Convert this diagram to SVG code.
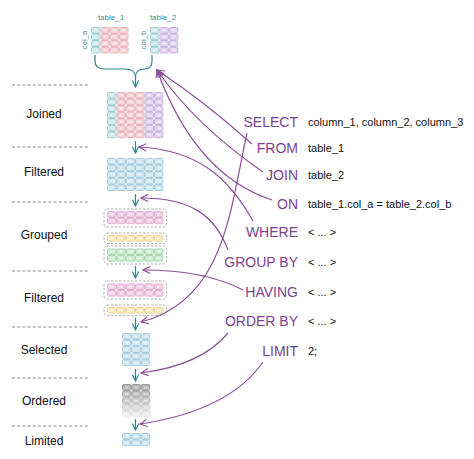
<svg xmlns="http://www.w3.org/2000/svg" width="474" height="459" viewBox="0 0 474 459">
<style>
.kw{font-family:"Liberation Sans",Arial,sans-serif;font-size:14px;fill:#7b3f8f;text-anchor:end}
.val{font-family:"Liberation Sans",Arial,sans-serif;font-size:11px;fill:#111}
.lbl{font-family:"Liberation Sans",Arial,sans-serif;font-size:12px;fill:#111;text-anchor:middle}
.tl{font-family:"Liberation Sans",Arial,sans-serif;font-size:8px;fill:#3f8f9a;text-anchor:middle}
.sep{stroke:#888;stroke-width:1;stroke-dasharray:3 2.2}
.grp{fill:none;stroke:#a8a8a8;stroke-width:0.9;stroke-dasharray:2.5 1.5}
.pc{fill:none;stroke:#8b4f9c;stroke-width:1.2}
.tc{fill:none;stroke:#2f8585;stroke-width:1.2}
</style>
<defs>
<pattern id="pTeal" width="9.4" height="6.6" patternUnits="userSpaceOnUse"><rect x="0.5" y="0.5" width="8.4" height="5.6" rx="1" fill="#d3ecee" stroke="#86c0c6" stroke-width="0.7"/><rect x="2.5" y="2.1" width="4.4" height="2.4" rx="0.5" fill="#f2fafa" stroke="#a8d4d8" stroke-width="0.4"/></pattern>
<pattern id="pPink" width="9.4" height="6.6" patternUnits="userSpaceOnUse"><rect x="0.5" y="0.5" width="8.4" height="5.6" rx="1" fill="#f6d3d7" stroke="#e0a2aa" stroke-width="0.7"/><rect x="2.5" y="2.1" width="4.4" height="2.4" rx="0.5" fill="#fdf1f2" stroke="#eec0c5" stroke-width="0.4"/></pattern>
<pattern id="pPurple" width="9.4" height="6.6" patternUnits="userSpaceOnUse"><rect x="0.5" y="0.5" width="8.4" height="5.6" rx="1" fill="#e3d5f1" stroke="#b8a0d6" stroke-width="0.7"/><rect x="2.5" y="2.1" width="4.4" height="2.4" rx="0.5" fill="#f6f1fb" stroke="#cfc0e6" stroke-width="0.4"/></pattern>
<pattern id="pBlue" width="9.4" height="6.6" patternUnits="userSpaceOnUse"><rect x="0.5" y="0.5" width="8.4" height="5.6" rx="1" fill="#d5eaf4" stroke="#8dbcd4" stroke-width="0.7"/><rect x="2.5" y="2.1" width="4.4" height="2.4" rx="0.5" fill="#f1f8fc" stroke="#b2d3e4" stroke-width="0.4"/></pattern>
<pattern id="pMag" width="9.4" height="6.6" patternUnits="userSpaceOnUse"><rect x="0.5" y="0.5" width="8.4" height="5.6" rx="1" fill="#f3d0e6" stroke="#d99cc4" stroke-width="0.7"/><rect x="2.5" y="2.1" width="4.4" height="2.4" rx="0.5" fill="#fbeff7" stroke="#e9bcd9" stroke-width="0.4"/></pattern>
<pattern id="pYellow" width="9.4" height="6.6" patternUnits="userSpaceOnUse"><rect x="0.5" y="0.5" width="8.4" height="5.6" rx="1" fill="#fbecc2" stroke="#e8c676" stroke-width="0.7"/><rect x="2.5" y="2.1" width="4.4" height="2.4" rx="0.5" fill="#fef8e8" stroke="#f0d99e" stroke-width="0.4"/></pattern>
<pattern id="pGreen" width="9.4" height="6.6" patternUnits="userSpaceOnUse"><rect x="0.5" y="0.5" width="8.4" height="5.6" rx="1" fill="#d3efd6" stroke="#8dc896" stroke-width="0.7"/><rect x="2.5" y="2.1" width="4.4" height="2.4" rx="0.5" fill="#f0faf1" stroke="#b3dcb9" stroke-width="0.4"/></pattern>
<pattern id="pGrey" width="9.4" height="6.6" patternUnits="userSpaceOnUse"><rect x="0.5" y="0.5" width="8.4" height="5.6" rx="1" fill="#b4b4b4" stroke="#7a7a7a" stroke-width="0.7"/><rect x="2.5" y="2.1" width="4.4" height="2.4" rx="0.5" fill="#dcdcdc" stroke="#999" stroke-width="0.4"/></pattern>
<linearGradient id="fade" x1="0" y1="0" x2="0" y2="1"><stop offset="0" stop-color="#fff" stop-opacity="0"/><stop offset="0.35" stop-color="#fff" stop-opacity="0.25"/><stop offset="1" stop-color="#fff" stop-opacity="0.85"/></linearGradient>
<marker id="ap" viewBox="0 0 10 10" refX="9" refY="5" markerWidth="9" markerHeight="9" markerUnits="userSpaceOnUse" orient="auto"><path d="M1,1 L9,5 L1,9" fill="none" stroke="#8b4f9c" stroke-width="1.3"/></marker>
<marker id="at" viewBox="0 0 10 10" refX="9" refY="5" markerWidth="8" markerHeight="8" markerUnits="userSpaceOnUse" orient="auto"><path d="M1,1 L9,5 L1,9" fill="none" stroke="#2f8585" stroke-width="1.4"/></marker>
</defs>
<rect width="474" height="459" fill="#fff"/>

<g id="separators">
<line class="sep" x1="12" y1="85" x2="88" y2="85"/>
<line class="sep" x1="12" y1="147" x2="88" y2="147"/>
<line class="sep" x1="12" y1="202" x2="88" y2="202"/>
<line class="sep" x1="12" y1="271" x2="88" y2="271"/>
<line class="sep" x1="12" y1="327" x2="88" y2="327"/>
<line class="sep" x1="12" y1="378" x2="88" y2="378"/>
<line class="sep" x1="12" y1="426" x2="88" y2="426"/>
</g>
<g id="stage-labels">
<text class="lbl" x="44" y="118">Joined</text>
<text class="lbl" x="44" y="176">Filtered</text>
<text class="lbl" x="44" y="239">Grouped</text>
<text class="lbl" x="44" y="302">Filtered</text>
<text class="lbl" x="44" y="354">Selected</text>
<text class="lbl" x="44" y="405">Ordered</text>
<text class="lbl" x="44" y="445">Limited</text>
</g>

<g id="table_1">
<text class="tl" x="111" y="20">table_1</text>
<text class="tl" transform="translate(87,40) rotate(-90)">col_a</text>
<g transform="translate(91,27)"><rect width="9.4" height="26.4" fill="url(#pTeal)"/><rect x="9.4" width="28.2" height="26.4" fill="url(#pPink)"/></g>
</g>
<g id="table_2">
<text class="tl" x="163" y="20">table_2</text>
<text class="tl" transform="translate(146,40) rotate(-90)">col_b</text>
<g transform="translate(150,27)"><rect width="9.4" height="26.4" fill="url(#pTeal)"/><rect x="9.4" width="18.8" height="26.4" fill="url(#pPurple)"/></g>
</g>
<g id="joined" transform="translate(107,92)"><rect width="9.4" height="46.2" fill="url(#pTeal)"/><rect x="9.4" width="28.2" height="46.2" fill="url(#pPink)"/><rect x="37.6" width="18.8" height="46.2" fill="url(#pPurple)"/></g>
<g id="filtered" transform="translate(107,158)"><rect width="56.4" height="33" fill="url(#pBlue)"/></g>
<g id="grouped">
<rect class="grp" x="104" y="209" width="62.4" height="18" rx="3"/>
<g transform="translate(107,211)"><rect width="56.4" height="13.2" fill="url(#pMag)"/></g>
<rect class="grp" x="104" y="233" width="62.4" height="10.6" rx="3"/>
<g transform="translate(107,235)"><rect width="56.4" height="6.6" fill="url(#pYellow)"/></g>
<rect class="grp" x="104" y="246" width="62.4" height="18" rx="3"/>
<g transform="translate(107,248.4)"><rect width="56.4" height="13.2" fill="url(#pGreen)"/></g>
</g>
<g id="filtered-groups">
<rect class="grp" x="104" y="281" width="62.4" height="18" rx="3"/>
<g transform="translate(107,283.4)"><rect width="56.4" height="13.2" fill="url(#pMag)"/></g>
<rect class="grp" x="104" y="305" width="62.4" height="10.6" rx="3"/>
<g transform="translate(107,307)"><rect width="56.4" height="6.6" fill="url(#pYellow)"/></g>
</g>
<g id="selected" transform="translate(122,333)"><rect width="28.2" height="33" fill="url(#pBlue)"/></g>
<g id="ordered" transform="translate(122,384)"><rect width="28.2" height="33" fill="url(#pGrey)"/><rect width="28.2" height="33" fill="url(#fade)"/></g>
<g id="limited" transform="translate(122,433)"><rect width="28.2" height="13.2" fill="url(#pBlue)"/></g>

<g id="keywords">
<text class="kw" x="298" y="127">SELECT</text>
<text class="kw" x="298" y="153">FROM</text>
<text class="kw" x="298" y="180">JOIN</text>
<text class="kw" x="298" y="209">ON</text>
<text class="kw" x="298" y="237">WHERE</text>
<text class="kw" x="298" y="267">GROUP BY</text>
<text class="kw" x="298" y="297">HAVING</text>
<text class="kw" x="298" y="326">ORDER BY</text>
<text class="kw" x="298" y="356">LIMIT</text>
</g>
<g id="values">
<text class="val" x="308" y="126">column_1, column_2, column_3</text>
<text class="val" x="308" y="152">table_1</text>
<text class="val" x="308" y="179">table_2</text>
<text class="val" x="308" y="208">table_1.col_a = table_2.col_b</text>
<text class="val" x="308" y="236">&lt; ... &gt;</text>
<text class="val" x="308" y="266">&lt; ... &gt;</text>
<text class="val" x="308" y="296">&lt; ... &gt;</text>
<text class="val" x="308" y="325">&lt; ... &gt;</text>
<text class="val" x="308" y="355">2;</text>
</g>

<g id="connectors">
<path class="tc" d="M95,55 V61 Q95,69 105,69 H125 Q135,69 135.5,77 V87" marker-end="url(#at)"/>
<path class="tc" d="M152,55 V61 Q152,69 145,69 Q135.5,69 135.5,77"/>
<path class="tc" d="M135.5,141 V153" marker-end="url(#at)"/>
<path class="tc" d="M135.5,194 V206" marker-end="url(#at)"/>
<path class="tc" d="M135.5,266 V278" marker-end="url(#at)"/>
<path class="tc" d="M135.5,318 V330" marker-end="url(#at)"/>
<path class="tc" d="M135.5,369 V381" marker-end="url(#at)"/>
<path class="tc" d="M135.5,419 V430" marker-end="url(#at)"/>

<path class="pc" d="M252,144 Q205,102 157,70" marker-end="url(#ap)"/>
<path class="pc" d="M263,172 Q195,125 157,70" marker-end="url(#ap)"/>
<path class="pc" d="M272,200 Q195.5,175 157,70" marker-end="url(#ap)"/>
<path class="pc" d="M247,133 C230,210 225,300 141,322" marker-end="url(#ap)"/>
<path class="pc" d="M253,221 C230,180 200,150 139,147" marker-end="url(#ap)"/>
<path class="pc" d="M228,250 C215,215 190,198 141,198" marker-end="url(#ap)"/>
<path class="pc" d="M243,290 C220,278 190,270 143,270" marker-end="url(#ap)"/>
<path class="pc" d="M228,333 C210,355 180,368 141,373" marker-end="url(#ap)"/>
<path class="pc" d="M263,362 C240,395 200,415 140,424" marker-end="url(#ap)"/>
</g>
</svg>
